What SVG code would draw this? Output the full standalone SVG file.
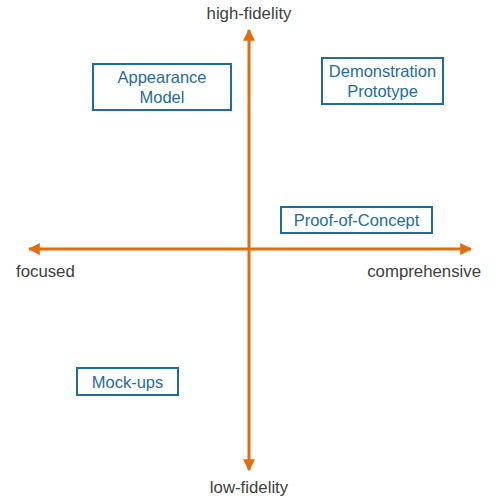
<svg xmlns="http://www.w3.org/2000/svg" width="500" height="500" viewBox="0 0 500 500">
<defs>
<marker id="ah" viewBox="0 0 10 10" refX="9" refY="5" markerWidth="4" markerHeight="4" orient="auto-start-reverse" markerUnits="strokeWidth">
<path d="M0,0 L10,5 L0,10 z" fill="#E46C0A"/>
</marker>
<style>
.ax{stroke:#E46C0A;stroke-width:3;fill:none}
.box{fill:#fff;stroke:#1F6C9E;stroke-width:2}
.bt{font-family:"Liberation Sans",Arial,sans-serif;font-size:16.5px;fill:#1F6C9E;text-anchor:middle}
.lb{font-family:"Liberation Sans",Arial,sans-serif;font-size:16.8px;fill:#404040}
</style>
</defs>
<rect width="500" height="500" fill="#fff"/>
<g id="connectors">
<line class="ax" x1="249" y1="470" x2="249" y2="30" marker-end="url(#ah)" marker-start="url(#ah)"/>
<line class="ax" x1="29" y1="249" x2="471" y2="249" marker-end="url(#ah)" marker-start="url(#ah)"/>
</g>
<g id="labels">
<text class="lb" x="249" y="19" text-anchor="middle">high-fidelity</text>
<text class="lb" x="249" y="493" text-anchor="middle">low-fidelity</text>
<text class="lb" x="16" y="277">focused</text>
<text class="lb" x="481" y="277" text-anchor="end">comprehensive</text>
</g>
<g id="appearance-model">
<rect class="box" x="93" y="64" width="138" height="46"/>
<text class="bt" x="162" y="83">Appearance</text>
<text class="bt" x="162" y="103">Model</text>
</g>
<g id="demonstration-prototype">
<rect class="box" x="322" y="58" width="121" height="46"/>
<text class="bt" x="382.5" y="77">Demonstration</text>
<text class="bt" x="382.5" y="97">Prototype</text>
</g>
<g id="proof-of-concept">
<rect class="box" x="281" y="207" width="151" height="26"/>
<text class="bt" x="356.5" y="225.5">Proof-of-Concept</text>
</g>
<g id="mock-ups">
<rect class="box" x="77" y="368" width="101" height="27"/>
<text class="bt" x="127.5" y="387.5">Mock-ups</text>
</g>
</svg>
